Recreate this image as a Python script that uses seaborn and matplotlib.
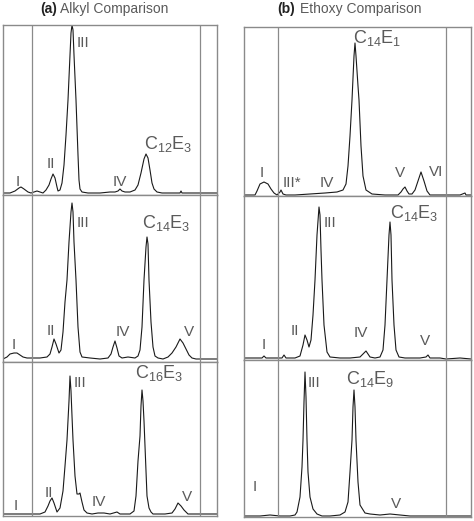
import numpy as np
import pandas as pd
import seaborn as sns
import matplotlib.pyplot as plt

sns.set_theme(style='white')
plt.rcParams['font.family'] = ['Liberation Sans', 'DejaVu Sans']
plt.rcParams['mathtext.default'] = 'regular'

# --- trace data (x = elution position, y = signal) ---
# (a) alkyl comparison
a1_x = [0, 7, 12, 16, 18, 21, 25, 28, 31, 34, 37, 40, 43, 46, 48, 50, 52, 54, 55, 57, 59, 61, 63, 65, 67,
        68, 69, 70, 71, 73, 75, 76, 77, 79, 85, 97, 107, 112, 115, 117, 119, 122, 127, 132, 135, 138, 141,
        143, 145, 147, 149, 151, 154, 159, 177, 178, 179, 197, 214]
a1_y = [2, 2, 4, 7, 8, 6, 3, 2, 3, 4, 3, 2, 5, 10, 16, 21, 17, 8, 4, 5, 12, 30, 60, 95, 140,
        162, 170, 165, 140, 95, 40, 15, 6, 3, 2, 2, 3, 3, 4, 6, 4, 3, 3, 5, 10, 22, 36,
        41, 37, 25, 12, 6, 3, 2, 2, 4, 2, 2, 2]

a2_x = [0, 4, 7, 11, 14, 17, 20, 24, 29, 37, 44, 47, 49, 51, 53, 56, 58, 60, 62, 64, 66, 68, 69, 70, 71,
        73, 75, 77, 79, 87, 97, 105, 108, 110, 112, 114, 116, 119, 125, 132, 135, 137, 139, 141, 143, 144,
        145, 146, 148, 150, 152, 155, 160, 165, 169, 173, 177, 180, 183, 186, 189, 193, 202, 214]
a2_y = [3, 5, 8, 9, 9, 7, 5, 4, 4, 4, 5, 8, 15, 23, 18, 9, 12, 30, 60, 82, 120, 150, 159, 150, 120,
        82, 35, 10, 5, 4, 3, 4, 8, 15, 21, 14, 6, 4, 5, 4, 6, 12, 35, 82, 115, 125,
        118, 82, 40, 15, 6, 4, 3, 5, 9, 15, 23, 19, 13, 7, 4, 3, 3, 3]

a3_x = [0, 7, 17, 27, 37, 42, 45, 47, 49, 51, 54, 57, 60, 62, 64, 66, 67, 68, 69, 70, 72, 74, 76, 77, 79,
        81, 84, 89, 95, 101, 107, 114, 117, 127, 131, 133, 135, 137, 138, 139, 140, 141, 142, 143, 144,
        146, 148, 150, 153, 162, 169, 172, 175, 178, 181, 185, 192, 214]
a3_y = [2, 2, 2, 2, 2, 4, 10, 15, 18, 13, 4, 8, 25, 50, 76, 115, 140, 125, 100, 76, 40, 22, 22, 23, 14,
        6, 3, 2, 3, 3, 2, 4, 2, 2, 5, 20, 55, 80, 110, 126, 115, 95, 70, 45, 20,
        8, 4, 2, 2, 2, 3, 7, 13, 10, 6, 2, 2, 2]

# (b) ethoxy comparison
b1_x = [0, 6, 11, 13, 16, 20, 24, 27, 30, 33, 36, 37, 39, 42, 51, 66, 81, 93, 99, 102, 104, 106, 108,
        110, 111, 112, 114, 115, 117, 119, 122, 128, 141, 154, 157, 159, 161, 163, 165, 168, 171, 174,
        177, 180, 183, 186, 196, 216, 221, 222, 227]
b1_y = [1, 1, 1, 5, 12, 14, 12, 7, 3, 1, 4, 6, 2, 1, 1, 2, 3, 4, 6, 12, 30, 60, 96,
        140, 153, 140, 110, 96, 50, 20, 6, 2, 1, 1, 4, 7, 9, 5, 2, 2, 6, 15,
        24, 15, 5, 1, 1, 1, 3, 1, 1]

b2_x = [0, 11, 18, 20, 22, 31, 38, 40, 42, 51, 56, 59, 61, 63, 65, 67, 69, 71, 73, 75, 76, 77, 78, 80,
        83, 86, 96, 106, 116, 119, 122, 124, 126, 131, 136, 139, 141, 143, 145, 146, 147, 148, 150, 152,
        155, 161, 176, 182, 184, 186, 196, 202, 216, 227]
b2_y = [2, 2, 2, 4, 2, 2, 2, 5, 2, 2, 4, 15, 25, 20, 13, 20, 45, 80, 125, 153, 145, 110, 80, 35,
        8, 3, 2, 2, 3, 6, 9, 6, 3, 2, 3, 10, 35, 80, 125, 138, 125, 80, 35, 10,
        3, 2, 2, 3, 5, 2, 2, 1, 2, 1]

b3_x = [0, 16, 26, 36, 46, 51, 53, 56, 58, 59, 60, 61, 62, 63, 64, 66, 69, 73, 78, 86, 96, 101, 104,
        106, 108, 109, 110, 111, 112, 114, 116, 121, 126, 136, 146, 156, 166, 202, 227]
b3_y = [1, 1, 2, 1, 1, 2, 5, 20, 50, 77, 115, 145, 120, 77, 45, 20, 8, 3, 1, 1, 2, 5, 15,
        45, 77, 110, 127, 110, 77, 35, 12, 4, 3, 2, 3, 2, 1, 1, 1]

# peak labels: text, x, y
a1_labels = [('I', 15, 13), ('II', 48, 31), ('III', 80, 152), ('IV', 117, 13),
             ('C$_{12}$E$_{3}$', 165, 51)]
a2_labels = [('I', 11, 17), ('II', 48, 31), ('III', 80, 139), ('IV', 120, 30),
             ('C$_{14}$E$_{3}$', 163, 139), ('V', 186, 30)]
a3_labels = [('I', 13, 10), ('II', 46, 23), ('III', 77, 133), ('IV', 96, 14),
             ('C$_{16}$E$_{3}$', 156, 143), ('V', 184, 19)]
b1_labels = [('I', 18, 23), ('III*', 48, 13), ('IV', 83, 13), ('C$_{14}$E$_{1}$', 133, 158),
             ('V', 156, 23), ('VI', 192, 24)]
b2_labels = [('I', 20, 15), ('II', 51, 29), ('III', 86, 137), ('IV', 117, 27),
             ('C$_{14}$E$_{3}$', 170, 147), ('V', 181, 19)]
b3_labels = [('I', 11, 30), ('III', 70, 134), ('C$_{14}$E$_{9}$', 126, 138), ('V', 152, 13)]

FW, FH = 474, 521
fig = plt.figure(figsize=(FW / 100, FH / 100), dpi=100)

frame_col = '#8a8a8a'
text_col = '#5a5a5a'
trace_col = '#1a1a1a'

# panel boxes in pixels: left, top, width, height ; plus the two inner marker lines
panels = [
    (a1_x, a1_y, a1_labels, (3, 25, 214, 170), (29, 197)),
    (a2_x, a2_y, a2_labels, (3, 195, 214, 167), (29, 197)),
    (a3_x, a3_y, a3_labels, (3, 362, 214, 154), (29, 197)),
    (b1_x, b1_y, b1_labels, (244, 27, 227, 169), (34, 202)),
    (b2_x, b2_y, b2_labels, (244, 196, 227, 164), (34, 202)),
    (b3_x, b3_y, b3_labels, (244, 360, 227, 157), (34, 202)),
]

for xs, ys, labels, (l, t, w, h), marks in panels:
    ax = fig.add_axes([l / FW, 1 - (t + h) / FH, w / FW, h / FH])
    df = pd.DataFrame({'x': xs, 'y': ys})
    sns.lineplot(data=df, x='x', y='y', ax=ax, color=trace_col, linewidth=0.8)
    for m in marks:
        ax.axvline(m, color=frame_col, linewidth=0.9)
    ax.set_xlim(0, w)
    ax.set_ylim(0, h)
    ax.set_xticks([])
    ax.set_yticks([])
    ax.set_xlabel('')
    ax.set_ylabel('')
    for s in ax.spines.values():
        s.set_color(frame_col)
        s.set_linewidth(1.0)
    for txt, x, y in labels:
        fs = 13 if txt.startswith('C') else 11
        ax.text(x, y, txt, ha='center', va='center', fontsize=fs, color=text_col)

# column titles
ty = 1 - 9 / FH
fig.text(40 / FW, ty, '(a)', ha='left', va='center', fontsize=10, fontweight='bold', color='#222222')
fig.text(60 / FW, ty, 'Alkyl Comparison', ha='left', va='center', fontsize=10, color=text_col)
fig.text(277 / FW, ty, '(b)', ha='left', va='center', fontsize=10, fontweight='bold', color='#222222')
fig.text(300 / FW, ty, 'Ethoxy Comparison', ha='left', va='center', fontsize=10, color=text_col)

fig.savefig('out.png', dpi=100, facecolor='white')
